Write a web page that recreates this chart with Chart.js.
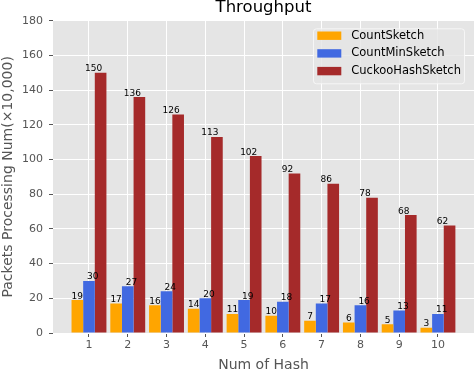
<!DOCTYPE html>
<html>
<head>
<meta charset="utf-8">
<script src="https://cdn.jsdelivr.net/npm/chart.js@4"></script>
<style>
  html, body { margin: 0; padding: 0; background: #fff; }
  #chart { display: block; }
</style>
</head>
<body>
<canvas id="chart" width="474" height="369"></canvas>
<script>
const hashCounts = [1, 2, 3, 4, 5, 6, 7, 8, 9, 10];
const countSketch = [19, 17, 16, 14, 11, 10, 7, 6, 5, 3];
const countMinSketch = [30, 27, 24, 20, 19, 18, 17, 16, 13, 11];
const cuckooHashSketch = [150, 136, 126, 113, 102, 92, 86, 78, 68, 62];

const FONT = "'DejaVu Sans', sans-serif";
const GREY = "#555555";


// Fill the plot area with the grey ggplot-like background before the grid is drawn
const plotBackground = {
  id: "plotBackground",
  beforeDraw(chart) {
    const { ctx, chartArea: a } = chart;
    ctx.save();
    ctx.fillStyle = "#e5e5e5";
    ctx.fillRect(a.left, a.top, a.right - a.left, a.bottom - a.top);
    ctx.restore();
  }
};


// Write each bar's value just above it; the labels of the original are not
// all centred on their bars, so each series gets its own shift (in bar widths)
const valueLabels = {
  id: "valueLabels",
  afterDatasetsDraw(chart) {
    const ctx = chart.ctx;
    const shifts = [0, 0.32, -0.6];
    ctx.save();
    ctx.font = "9px " + FONT;
    ctx.fillStyle = "#000";
    ctx.textAlign = "center";
    ctx.textBaseline = "alphabetic";
    chart.data.datasets.forEach((set, i) => {
      chart.getDatasetMeta(i).data.forEach((bar, j) => {
        ctx.fillText(String(set.data[j]), bar.x + shifts[i] * bar.width, bar.y - 1.5);
      });
    });
    ctx.restore();
  }
};


// Legend box in the upper right corner of the plot, like matplotlib's
const boxLegend = {
  id: "boxLegend",
  afterDraw(chart) {
    const { ctx, chartArea: a } = chart;
    const w = 151, h = 55;
    const x = a.right - 10 - w;
    const y = a.top + 7.6;

    ctx.save();
    ctx.beginPath();
    if (ctx.roundRect) {
      ctx.roundRect(x + 0.5, y + 0.5, w, h, 3);
    } else {
      ctx.rect(x + 0.5, y + 0.5, w, h);
    }
    ctx.fillStyle = "rgba(229,229,229,0.8)";
    ctx.fill();
    ctx.strokeStyle = "rgba(250,250,250,0.8)";
    ctx.lineWidth = 1;
    ctx.stroke();

    ctx.font = "11.5px " + FONT;
    ctx.textAlign = "left";
    ctx.textBaseline = "middle";
    chart.data.datasets.forEach((set, i) => {
      const cy = y + 7.4 + i * 17.7;
      ctx.fillStyle = set.backgroundColor;
      ctx.fillRect(x + 4.3, cy - 4.2, 24, 8.4);
      ctx.fillStyle = "#000";
      ctx.fillText(set.label, x + 38.3, cy);
    });
    ctx.restore();
  }
};


const config = {
  type: "bar",
  data: {
    labels: hashCounts,
    datasets: [
      { label: "CountSketch", data: countSketch, backgroundColor: "#ffa500" },
      { label: "CountMinSketch", data: countMinSketch, backgroundColor: "#4169e1" },
      { label: "CuckooHashSketch", data: cuckooHashSketch, backgroundColor: "#a52a2a" }
    ]
  },
  options: {
    responsive: false,
    animation: false,
    events: [],
    datasets: {
      bar: { categoryPercentage: 0.9, barPercentage: 1.0, borderWidth: 0 }
    },
    layout: { padding: 0 },
    plugins: {
      legend: { display: false },
      tooltip: { enabled: false },
      title: {
        display: true,
        text: "Throughput",
        fullSize: false,
        color: "#000",
        font: { family: FONT, size: 16.5, weight: "normal", lineHeight: 1 },
        padding: { top: -0.85, bottom: 5.05 }
      }
    },
    scales: {
      x: {
        type: "linear",
        min: 0.072,
        max: 10.93,
        offset: false,
        // only the integer hash counts get a tick and a grid line
        afterBuildTicks: (scale) => {
          scale.ticks = hashCounts.map((v) => ({ value: v }));
        },
        afterFit: (scale) => {
          scale.height = 36;
        },
        grid: { color: "#ffffff", lineWidth: 1, tickColor: GREY, tickLength: 4, offset: false },
        border: { display: false },
        ticks: {
          color: GREY,
          font: { family: FONT, size: 11, lineHeight: 1 },
          padding: 3,
          maxRotation: 0,
          autoSkip: false
        },
        title: {
          display: true,
          text: "Num of Hash",
          color: GREY,
          font: { family: FONT, size: 14, lineHeight: 1 },
          padding: { top: 0, bottom: -3 }
        }
      },
      y: {
        min: 0,
        max: 180,
        afterFit: (scale) => {
          scale.width = 53;
        },
        grid: { color: "#ffffff", lineWidth: 1, tickColor: GREY, tickLength: 4 },
        border: { display: false },
        ticks: {
          stepSize: 20,
          color: GREY,
          font: { family: FONT, size: 11 },
          padding: 6
        },
        title: {
          display: true,
          text: "Packets Processing Num(×10,000)",
          color: GREY,
          font: { family: FONT, size: 14, lineHeight: 1 },
          padding: { top: 1.4, bottom: 0 }
        }
      }
    }
  },
  plugins: [plotBackground, valueLabels, boxLegend]
};

window.throughputChart = new Chart(document.getElementById("chart"), config);
</script>
</body>
</html>
